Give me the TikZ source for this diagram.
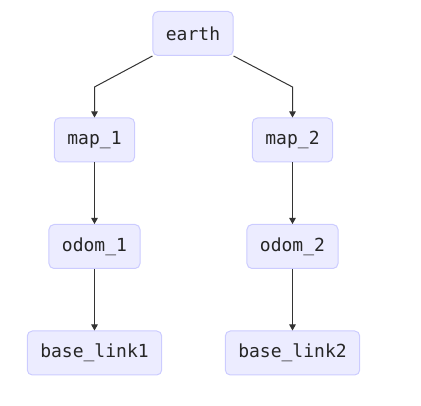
\documentclass[tikz,border=0pt]{standalone}
\usepackage{fontspec}
\setmonofont{DejaVu Sans Mono}
\usepackage{tikz}
\usetikzlibrary{arrows.meta,positioning}
\definecolor{boxfill}{HTML}{ECECFF}
\definecolor{boxline}{HTML}{CCCCFF}
\definecolor{linkcol}{HTML}{333333}

\begin{document}
\begin{tikzpicture}[
    x=1pt,y=-1pt,
    every node/.style={font=\fontsize{18}{20}\selectfont\ttfamily},
    frame/.style={draw=boxline,line width=1pt,fill=boxfill,rounded corners=5pt,minimum height=44pt,inner xsep=13pt,text=black!85},
    link/.style={-{Triangle[length=6pt,width=6.5pt]},line width=1pt,linkcol}
]
\useasboundingbox (0,0) rectangle (421,406);

% Root
\node[frame] (earth) at (193,33.5) {earth};

% Two branches
\node[frame] (map1)  at (94.5,140) {map\_1};
\node[frame] (map2)  at (292.5,140) {map\_2};
\node[frame] (odom1) at (94.5,246.5) {odom\_1};
\node[frame] (odom2) at (292.5,246.5) {odom\_2};
\node[frame] (base1) at (94.5,353) {base\_link1};
\node[frame] (base2) at (292.5,353) {base\_link2};

\draw[link] (earth.south west) -- (map1.north |- 0,87) -- (map1.north);
\draw[link] (earth.south east) -- (map2.north |- 0,87) -- (map2.north);
\draw[link] (map1) -- (odom1);
\draw[link] (map2) -- (odom2);
\draw[link] (odom1) -- (base1);
\draw[link] (odom2) -- (base2);
\end{tikzpicture}
\end{document}
